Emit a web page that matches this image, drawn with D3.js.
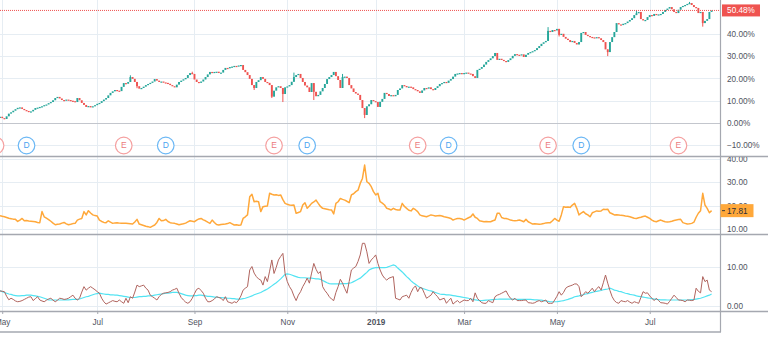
<!DOCTYPE html>
<html><head><meta charset="utf-8">
<script src="https://cdn.jsdelivr.net/npm/d3@7"></script>
<style>
html,body{margin:0;padding:0;background:#fff;}
svg{display:block;font-family:"Liberation Sans",Arial,sans-serif;}
</style></head><body><svg id="c" width="768" height="358"></svg>
<script>
// ---------- data ----------
const startDate = "2018-04-30";
const endDate = "2019-08-09";
const holidays = ["2018-05-28","2018-07-04","2018-09-03","2018-11-22","2018-12-05","2018-12-25",
  "2019-01-01","2019-01-21","2019-02-18","2019-04-19","2019-05-27","2019-07-04"];

const firstOpen = 2.6;
const closes = [
 2.8, 2.2, 1.8, 3.0, 4.2, 4.8, 5.5, 6.2, 6.8, 7.0,
 6.3, 5.8, 5.4, 5.0, 5.2, 5.9, 6.7, 6.9, 7.2, 7.5,
 8.0, 8.3, 8.9, 9.4, 10.2, 11.2, 11.7, 11.0, 10.3, 10.2,
 10.5, 10.3, 10.0, 9.8, 9.4, 11.2, 10.2, 9.0, 8.1, 7.2,
 7.6, 7.0, 7.5, 8.0, 8.6, 9.0, 9.8, 10.5, 11.2, 12.4,
 13.5, 14.2, 14.8, 14.5, 14.3, 16.2, 17.9, 17.6, 18.4, 20.6,
 19.8, 18.4, 16.5, 15.4, 15.7, 16.3, 17.0, 17.5, 18.0, 18.6,
 19.7, 19.0, 18.4, 18.6, 18.2, 18.0, 17.6, 17.0, 16.5, 16.0,
 17.2, 18.4, 19.0, 19.6, 20.2, 21.5, 22.4, 22.0, 19.5, 18.4,
 18.0, 18.6, 19.5, 20.6, 21.8, 22.9, 22.5, 22.9, 23.0, 22.4,
 22.6, 23.8, 24.7, 24.5, 25.1, 25.3, 25.6, 25.4, 25.8, 26.0,
 23.8, 22.8, 21.5, 19.8, 17.0, 15.7, 18.4, 19.2, 20.6, 19.8,
 18.4, 18.0, 17.0, 11.8, 14.5, 16.0, 16.5, 15.7, 13.0, 16.0,
 16.4, 17.0, 18.5, 20.6, 21.5, 22.0, 20.2, 18.4, 16.8, 16.0,
 13.9, 17.9, 14.0, 12.0, 12.6, 14.2, 15.7, 17.5, 19.7, 20.6,
 21.5, 22.9, 21.0, 19.3, 15.7, 20.6, 20.8, 20.2, 17.0, 15.5,
 13.9, 13.2, 12.6, 10.3, 6.7, 3.6, 7.5, 8.4, 10.3, 9.8,
 9.4, 7.2, 9.5, 10.8, 13.5, 13.0, 12.1, 12.5, 12.0, 12.6,
 14.8, 15.5, 17.0, 16.6, 16.0, 16.3, 16.0, 15.2, 14.8, 14.2,
 13.5, 14.6, 15.7, 15.4, 16.0, 15.2, 14.8, 15.7, 16.5, 17.5,
 17.9, 18.4, 18.0, 19.0, 19.7, 20.8, 22.0, 22.2, 22.4, 21.9,
 22.4, 22.6, 22.2, 22.0, 21.0, 20.2, 23.8, 24.3, 25.1, 26.2,
 27.4, 28.2, 29.0, 30.0, 31.4, 28.3, 28.8, 28.3, 27.8, 27.4,
 28.2, 29.0, 30.1, 30.9, 30.6, 30.5, 30.8, 29.6, 30.6, 31.4,
 31.8, 32.2, 32.7, 33.6, 34.5, 35.5, 36.2, 36.8, 41.3, 40.8,
 41.7, 41.5, 42.2, 39.5, 40.0, 38.6, 37.8, 37.2, 36.3, 36.8,
 35.9, 35.2, 36.3, 40.4, 40.8, 39.5, 39.0, 38.6, 38.4, 38.0,
 38.5, 38.0, 37.2, 36.3, 33.0, 31.8, 36.3, 38.5, 40.8, 44.8,
 44.2, 43.9, 44.5, 44.8, 45.5, 46.2, 47.0, 48.4, 49.2, 49.8,
 46.6, 46.0, 46.2, 47.5, 48.4, 48.0, 48.9, 48.5, 48.7, 48.9,
 49.8, 50.7, 51.3, 52.0, 51.0, 49.8, 49.3, 50.8, 52.0, 52.5,
 52.9, 53.4, 53.8, 52.9, 52.0, 51.6, 49.3, 49.8, 44.8, 45.8, 46.6, 49.8, 50.48];

// notable wicks: [trading-day index, value]
const wickLows = [[123, 11.2], [128, 9.4], [142, 10.3], [165, 2.2], [115, 14.8], [275, 30.0], [318, 43.2], [62, 15.6], [253, 38.8]];
const wickHighs = [[59, 21.4], [248, 43.0], [288, 50.6], [312, 54.3], [133, 22.6], [155, 22.0], [87, 23.0]];

const vix = [
 15.7, 15.4, 15.2, 14.9, 14.6, 14.4, 14.2, 14.1, 13.2, 13.8,
 14.5, 13.5, 13.6, 13.4, 13.3, 13.2, 13.1, 12.8, 12.7, 17.4,
 15.2, 14.6, 14.0, 13.3, 12.5, 11.8, 12.0, 12.1, 12.5, 12.8,
 12.2, 11.8, 12.0, 12.3, 12.4, 13.8, 14.2, 14.5, 17.4, 16.0,
 17.8, 16.8, 16.0, 15.7, 15.5, 13.8, 13.2, 12.8, 12.7, 13.5,
 12.9, 12.4, 12.6, 12.7, 12.5, 12.4, 12.5, 12.4, 12.3, 12.2,
 12.1, 13.0, 14.1, 12.1, 11.8, 11.5, 11.2, 11.0, 10.7, 11.2,
 11.7, 12.8, 14.5, 13.5, 13.6, 14.1, 13.2, 12.7, 12.5, 12.4,
 12.1, 11.8, 12.0, 12.2, 12.5, 13.0, 13.5, 13.3, 13.1, 13.8,
 14.3, 14.5, 13.9, 13.5, 12.9, 12.4, 13.8, 12.8, 11.9, 11.7,
 11.9, 12.0, 12.1, 12.3, 12.7, 12.2, 11.7, 11.8, 11.6, 11.7,
 14.5, 15.2, 16.0, 23.7, 24.8, 21.6, 21.8, 21.6, 17.4, 19.5,
 19.7, 19.8, 25.2, 24.8, 24.5, 24.6, 24.3, 24.5, 22.5, 20.9,
 20.5, 20.2, 20.1, 20.2, 16.7, 17.0, 17.4, 20.2, 21.2, 18.8,
 19.8, 20.9, 21.5, 22.3, 20.9, 19.6, 18.8, 18.6, 18.4, 18.2,
 18.1, 16.4, 20.9, 21.6, 23.0, 22.6, 22.3, 21.8, 21.2, 24.5,
 25.0, 25.9, 26.5, 29.4, 31.5, 37.2, 30.1, 29.4, 28.0, 25.9,
 24.5, 25.2, 21.6, 21.0, 20.2, 18.8, 18.5, 18.1, 18.8, 18.3,
 18.1, 18.1, 20.9, 19.6, 18.8, 18.0, 17.7, 18.8, 18.2, 17.4,
 16.0, 15.6, 15.4, 15.2, 15.6, 16.0, 15.8, 15.5, 15.6, 15.7,
 15.5, 15.2, 15.0, 14.8, 14.5, 13.8, 14.2, 14.5, 14.5, 14.3,
 13.8, 14.3, 14.8, 15.2, 16.4, 15.0, 14.5, 13.5, 13.3, 13.1,
 13.2, 13.1, 13.1, 13.5, 13.8, 16.7, 16.7, 14.9, 14.5, 14.5,
 14.2, 13.8, 13.6, 13.5, 13.6, 13.8, 13.5, 13.1, 14.1, 13.1,
 12.6, 12.1, 12.2, 12.1, 12.0, 12.1, 12.3, 12.6, 12.7, 12.7,
 13.5, 14.5, 13.8, 13.3, 16.0, 19.5, 19.3, 19.4, 19.2, 20.2,
 20.9, 18.8, 16.0, 16.8, 17.4, 16.5, 16.0, 15.2, 16.9, 17.3,
 17.7, 17.6, 17.7, 18.4, 18.3, 18.4, 16.9, 16.5, 16.0, 16.1,
 16.0, 15.8, 15.7, 15.5, 15.4, 15.2, 14.9, 14.6, 14.5, 14.8,
 15.0, 15.3, 15.5, 15.0, 14.5, 13.8, 13.3, 13.1, 13.5, 13.8,
 13.4, 13.1, 13.0, 13.1, 13.3, 13.6, 13.8, 14.0, 14.1, 12.7,
 12.4, 12.1, 12.2, 12.4, 12.9, 15.0, 16.7, 17.8, 25.2, 20.2, 18.8, 16.9, 17.81];

const osc = [
 3.9, 3.8, 3.7, 2.5, 1.6, 2.0, 1.7, 1.3, 1.1, 1.2,
 1.4, 1.7, 2.0, 2.3, 2.4, 1.4, 1.9, 2.4, 1.55, 1.3,
 1.1, 1.5, 1.8, 2.0, 1.5, 1.1, 1.5, 2.0, 1.9, 1.7,
 1.8, 2.0, 2.4, 2.8, 2.0, 1.55, 2.0, 3.6, 5.0, 4.1,
 4.6, 5.0, 4.6, 4.2, 3.7, 3.3, 2.0, 1.1, 0.5, 0.8,
 1.1, 1.4, 1.2, 1.1, 1.55, 1.1, 0.7, 2.0, 0.85, 2.4,
 2.0, 3.6, 5.4, 5.0, 5.2, 5.4, 4.6, 4.1, 2.8, 2.4,
 2.0, 1.55, 2.4, 3.0, 3.3, 3.4, 3.5, 3.7, 4.1, 4.3,
 4.6, 3.3, 2.2, 1.55, 1.0, 0.7, 1.1, 2.0, 3.2, 4.3,
 4.6, 4.0, 3.3, 2.0, 1.1, 1.1, 1.4, 1.8, 2.4, 2.2,
 2.0, 1.4, 2.4, 1.1, 0.9, 0.7, 1.1, 0.85, 1.55, 2.6,
 4.1, 4.6, 5.0, 9.3, 10.2, 8.5, 7.6, 7.0, 6.7, 5.4,
 7.6, 6.3, 9.0, 11.9, 8.4, 10.0, 11.9, 12.8, 13.6, 8.4,
 6.3, 5.0, 4.1, 2.6, 1.4, 2.8, 3.7, 5.0, 6.0, 7.2,
 5.9, 8.5, 11.0, 9.5, 8.4, 8.9, 5.0, 4.0, 3.3, 2.4,
 1.8, 1.4, 3.5, 5.0, 6.9, 5.9, 4.5, 3.3, 6.3, 9.3,
 9.8, 10.2, 11.5, 13.2, 16.2, 16.2, 14.0, 11.0, 11.9, 12.5,
 13.2, 11.0, 9.3, 8.0, 7.2, 6.7, 7.2, 7.4, 7.6, 2.0,
 1.8, 1.55, 2.4, 2.6, 2.8, 2.0, 3.5, 4.6, 5.2, 3.7,
 4.8, 4.6, 3.3, 2.0, 2.4, 2.8, 3.7, 3.0, 2.4, 1.55,
 1.8, 2.0, 0.7, 1.4, 2.0, 0.5, 1.0, 1.4, 0.85, 1.2,
 1.55, 1.4, 1.4, 2.0, 1.1, 3.4, 2.0, 1.4, 0.85, 0.7,
 0.7, 1.4, 1.1, 0.85, 2.4, 2.8, 3.0, 3.3, 3.6, 3.9,
 2.8, 2.0, 1.55, 2.0, 1.4, 1.4, 1.4, 1.5, 1.55, 0.85,
 0.8, 0.7, 0.85, 1.2, 1.4, 1.1, 1.3, 1.55, 0.7, 0.7,
 0.7, 1.55, 2.5, 3.7, 2.8, 3.5, 4.6, 5.0, 5.2, 5.4,
 5.7, 5.7, 5.0, 2.4, 3.0, 3.7, 3.3, 3.9, 4.6, 3.7,
 4.5, 5.0, 4.1, 6.0, 8.0, 5.9, 4.0, 2.4, 1.4, 0.9,
 0.7, 1.4, 1.2, 1.1, 1.4, 1.0, 0.7, 1.1, 0.9, 0.7,
 2.2, 3.7, 3.3, 3.4, 2.6, 2.0, 1.4, 2.0, 1.4, 0.85,
 0.8, 0.7, 0.5, 1.2, 2.0, 2.8, 2.2, 1.55, 1.5, 1.4,
 1.1, 1.55, 1.5, 1.4, 1.55, 4.6, 3.8, 3.4, 7.6, 6.3, 6.7, 4.1, 3.7];

const oscAvg = [
 3.9, 3.7, 3.5, 3.3, 3.1, 3.0, 2.8, 2.7, 2.6, 2.6,
 2.7, 2.7, 2.8, 2.8, 2.8, 2.7, 2.6, 2.5, 2.4, 2.2,
 2.0, 1.8, 1.6, 1.55, 1.55, 1.55, 1.55, 1.55, 1.55, 1.6,
 1.6, 1.6, 1.65, 1.7, 1.7, 1.7, 1.8, 2.0, 2.2, 2.4,
 2.5, 2.7, 2.9, 3.1, 3.2, 3.3, 3.2, 3.1, 3.0, 3.0,
 2.9, 2.9, 2.8, 2.8, 2.7, 2.6, 2.5, 2.4, 2.3, 2.2,
 2.2, 2.2, 2.3, 2.4, 2.4, 2.5, 2.5, 2.6, 2.6, 2.7,
 2.8, 2.9, 3.0, 3.1, 3.2, 3.3, 3.3, 3.4, 3.5, 3.5,
 3.5, 3.4, 3.2, 3.0, 2.8, 2.7, 2.6, 2.6, 2.7, 2.7,
 2.8, 2.8, 2.7, 2.6, 2.5, 2.5, 2.4, 2.3, 2.3, 2.2,
 2.2, 2.1, 2.1, 2.0, 2.0, 1.9, 1.9, 1.8, 1.8, 1.8,
 1.9, 2.0, 2.2, 2.4, 2.6, 2.9, 3.1, 3.3, 3.5, 3.8,
 4.1, 4.4, 4.8, 5.2, 5.6, 6.0, 6.5, 7.0, 7.6, 8.2,
 8.3, 8.2, 8.0, 7.8, 7.6, 7.4, 7.3, 7.3, 7.3, 7.2,
 7.2, 7.2, 7.1, 7.0, 7.0, 6.9, 6.6, 6.3, 6.0, 5.8,
 5.7, 5.7, 5.7, 5.7, 5.7, 5.8, 5.8, 5.8, 5.9, 6.0,
 6.3, 6.6, 6.9, 7.2, 7.7, 8.2, 8.7, 9.3, 9.6, 9.8,
 9.9, 9.9, 9.9, 9.9, 9.9, 10.0, 10.2, 10.4, 10.6, 10.4,
 9.8, 9.3, 8.8, 8.2, 7.6, 7.1, 6.5, 6.0, 5.6, 5.2,
 4.8, 4.6, 4.4, 4.2, 4.0, 3.9, 3.7, 3.5, 3.3, 3.1,
 3.0, 3.0, 2.9, 2.9, 2.8, 2.7, 2.6, 2.5, 2.4, 2.3,
 2.2, 2.1, 2.0, 1.8, 1.7, 1.6, 1.5, 1.4, 1.4, 1.45,
 1.5, 1.55, 1.6, 1.65, 1.7, 1.75, 1.8, 1.8, 1.8, 1.8,
 1.8, 1.8, 1.8, 1.75, 1.7, 1.7, 1.7, 1.7, 1.7, 1.7,
 1.7, 1.65, 1.6, 1.6, 1.55, 1.5, 1.4, 1.3, 1.2, 1.1,
 1.1, 1.1, 1.1, 1.2, 1.3, 1.4, 1.55, 1.7, 1.9, 2.1,
 2.4, 2.5, 2.6, 2.8, 2.9, 3.1, 3.2, 3.4, 3.5, 3.7,
 3.8, 3.9, 4.0, 4.2, 4.3, 4.4, 4.6, 4.4, 4.1, 4.0,
 3.8, 3.7, 3.5, 3.3, 3.2, 3.0, 2.9, 2.8, 2.6, 2.5,
 2.4, 2.3, 2.2, 2.1, 2.0, 1.9, 1.8, 1.7, 1.65, 1.6,
 1.6, 1.6, 1.55, 1.55, 1.55, 1.55, 1.55, 1.55, 1.55, 1.55,
 1.55, 1.55, 1.6, 1.65, 1.7, 1.8, 1.9, 2.0, 2.2, 2.4, 2.6, 2.8, 3.1];

const priceTicks = [-10, 0, 10, 20, 30, 40];
const vixTicks = [10, 20, 30, 40];
const oscTicks = [0, 10];
const monthDates = ["2018-05-01","2018-07-01","2018-09-01","2018-11-01","2019-01-01","2019-03-01","2019-05-01","2019-07-01"];
const monthLabels = ["May","Jul","Sep","Nov","2019","Mar","May","Jul"];
const earningsAt = [-2, 56, 124, 189, 248, 307];   // trading-day offsets
const dividendsAt = [12, 75, 139, 203, 263];

// ---------- build trading days ----------
const fmt = d3.utcFormat("%Y-%m-%d");
const hol = new Set(holidays);
const days = d3.utcDay.range(new Date(startDate + "T00:00:00Z"), d3.utcDay.offset(new Date(endDate + "T00:00:00Z"), 1))
  .filter(d => d.getUTCDay() >= 1 && d.getUTCDay() <= 5 && !hol.has(fmt(d)));

const monthIdx = monthDates.map(s => { const t = new Date(s + "T00:00:00Z"); return days.findIndex(d => d >= t); });

// ---------- layout ----------
const W = 768, plotR = 720;
const P1 = {top: 0, bottom: 156}, P2 = {top: 157, bottom: 234}, P3 = {top: 235, bottom: 311};
const axisBottom = 332;

const x = d3.scaleLinear().domain([0, 325.8]).range([0, plotR]);
const yP = d3.scaleLinear().domain([0, 40]).range([123, 33.8]);
const yV = d3.scaleLinear().domain([10, 40]).range([229, 158.5]);
const yO = d3.scaleLinear().domain([0, 10]).range([306, 267.3]);

const svg = d3.select("#c");
const defs = svg.append("defs");
function clip(id, y0, y1, w) {
  defs.append("clipPath").attr("id", id).append("rect").attr("x", 0).attr("y", y0).attr("width", w).attr("height", y1 - y0);
}
clip("c1", P1.top, P1.bottom, plotR); clip("c2", P2.top, P2.bottom, plotR); clip("c3", P3.top, P3.bottom, plotR);
clip("a1", P1.top, P1.bottom, W); clip("a2", P2.top, P2.bottom, W); clip("a3", P3.top, P3.bottom, W);

svg.append("rect").attr("width", W).attr("height", 358).attr("fill", "#fff");

const gridCol = "#e6edf3", sepCol = "#a5a8b0", txtCol = "#50535e";

// vertical grid lines (month ticks)
const vg = svg.append("g").call(d3.axisBottom(x).tickValues(monthIdx).tickSize(P3.bottom).tickFormat(""));
vg.select(".domain").remove();
vg.selectAll("line").attr("stroke", gridCol).attr("shape-rendering", "crispEdges");

// horizontal grid lines per pane
function hgrid(scale, ticks, cid) {
  const g = svg.append("g").attr("clip-path", `url(#${cid})`)
    .call(d3.axisLeft(scale).tickValues(ticks).tickSize(-plotR).tickFormat(""));
  g.select(".domain").remove();
  g.selectAll("line").attr("stroke", gridCol).attr("shape-rendering", "crispEdges");
}
hgrid(yP, priceTicks, "c1");
hgrid(yV, vixTicks, "c2");
hgrid(yO, oscTicks, "c3");

// 0% baseline
svg.append("line").attr("x1", 0).attr("x2", plotR).attr("y1", Math.round(yP(0)) + 0.5).attr("y2", Math.round(yP(0)) + 0.5)
  .attr("stroke", "#c3c6cd");

// ---------- candles ----------
const up = "#26a69a", down = "#ef5350";
const lowMap = new Map(wickLows), highMap = new Map(wickHighs);
const cg = svg.append("g").attr("clip-path", "url(#c1)");
closes.forEach((c, i) => {
  const o = i === 0 ? firstOpen : closes[i - 1];
  const col = c >= o ? up : down;
  const hi = highMap.has(i) ? highMap.get(i) : Math.max(o, c);
  const lo = lowMap.has(i) ? lowMap.get(i) : Math.min(o, c);
  if (hi > Math.max(o, c) || lo < Math.min(o, c)) {
    cg.append("line").attr("x1", x(i)).attr("x2", x(i)).attr("y1", yP(hi)).attr("y2", yP(lo))
      .attr("stroke", col).attr("stroke-width", 1);
  }
  const y1 = yP(Math.max(o, c)), y2 = yP(Math.min(o, c));
  cg.append("rect").attr("x", x(i) - 0.95).attr("width", 1.9)
    .attr("y", y1).attr("height", Math.max(1.2, y2 - y1))
    .attr("fill", col);
});

// last price dotted line
const lastP = closes[closes.length - 1];
svg.append("line").attr("x1", 0).attr("x2", plotR).attr("y1", yP(lastP)).attr("y2", yP(lastP))
  .attr("stroke", "#ef5350").attr("stroke-width", 1).attr("stroke-dasharray", "1,1");

// E / D markers
const mg = svg.append("g").attr("clip-path", "url(#c1)");
function marker(i, letter, col, txt) {
  const cx = x(i), cy = 145.5;
  mg.append("circle").attr("cx", cx).attr("cy", cy).attr("r", 8.3).attr("fill", "#fff").attr("stroke", col).attr("stroke-width", 1.2);
  mg.append("text").attr("x", cx).attr("y", cy).attr("dy", "0.35em").attr("text-anchor", "middle")
    .attr("font-size", 8.5).attr("fill", txt).text(letter);
}
earningsAt.forEach(i => marker(i, "E", "#f5a0a0", "#ec7b7b"));
dividendsAt.forEach(i => marker(i, "D", "#6cb8f5", "#4aa3ef"));

// ---------- VIX line ----------
svg.append("path").attr("clip-path", "url(#c2)").datum(vix)
  .attr("d", d3.line().x((d, i) => x(i)).y(d => yV(d)))
  .attr("fill", "none").attr("stroke", "#ffa83a").attr("stroke-width", 1.5).attr("stroke-linejoin", "round");

// ---------- oscillator lines ----------
svg.append("path").attr("clip-path", "url(#c3)").datum(oscAvg)
  .attr("d", d3.line().x((d, i) => x(i)).y(d => yO(d)))
  .attr("fill", "none").attr("stroke", "#52e3f2").attr("stroke-width", 1.2);
svg.append("path").attr("clip-path", "url(#c3)").datum(osc)
  .attr("d", d3.line().x((d, i) => x(i)).y(d => yO(d)))
  .attr("fill", "none").attr("stroke", "#b0645e").attr("stroke-width", 1);

// ---------- separators / frame ----------
function hline(y, x1, x2) {
  svg.append("line").attr("x1", x1).attr("x2", x2).attr("y1", y).attr("y2", y).attr("stroke", sepCol).attr("stroke-width", 1.3);
}
hline(156.5, 0, W); hline(234.5, 0, W); hline(311.5, 0, W); hline(332, 0, plotR + 1);
svg.append("line").attr("x1", plotR + 0.5).attr("x2", plotR + 0.5).attr("y1", 0).attr("y2", axisBottom).attr("stroke", sepCol).attr("stroke-width", 1.2);

// ---------- right axes ----------
function raxis(scale, ticks, fmtFn, cid) {
  const g = svg.append("g").attr("transform", `translate(${plotR},0)`).attr("clip-path", `url(#${cid})`)
    .call(d3.axisRight(scale).tickValues(ticks).tickSize(0).tickPadding(7).tickFormat(fmtFn));
  g.select(".domain").remove();
  g.selectAll("text").attr("font-size", 8.2).attr("fill", txtCol).attr("font-family", "Liberation Sans, Arial, sans-serif");
}
const pctFmt = v => (v < 0 ? "\u2212" : "") + Math.abs(v).toFixed(2) + "%";
raxis(yP, priceTicks, pctFmt, "a1");
raxis(yV, vixTicks, v => v.toFixed(2), "a2");
raxis(yO, oscTicks, v => v.toFixed(2), "a3");

// last-value labels
const lpY = yP(lastP);
svg.append("rect").attr("x", 722).attr("y", lpY - 6).attr("width", 38).attr("height", 12).attr("fill", "#ef5350");
svg.append("text").attr("x", 741).attr("y", lpY).attr("dy", "0.35em").attr("text-anchor", "middle")
  .attr("font-size", 8.2).attr("fill", "#fff").text(lastP.toFixed(2) + "%");

const lastV = vix[vix.length - 1], lvY = yV(lastV);
svg.append("rect").attr("x", 720.5).attr("y", lvY - 6.5).attr("width", 33).attr("height", 13).attr("fill", "#ffa83a");
svg.append("line").attr("x1", 722).attr("x2", 725).attr("y1", lvY).attr("y2", lvY).attr("stroke", "#3a3a3a");
svg.append("text").attr("x", 727).attr("y", lvY).attr("dy", "0.35em")
  .attr("font-size", 8.2).attr("fill", "#2a2e39").text(lastV.toFixed(2));

// ---------- bottom time axis ----------
const xa = svg.append("g").attr("transform", `translate(0,${P3.bottom})`)
  .call(d3.axisBottom(x).tickValues(monthIdx).tickSize(3).tickPadding(5).tickFormat((d, i) => monthLabels[i]));
xa.select(".domain").remove();
xa.selectAll("line").attr("stroke", sepCol);
xa.selectAll("text").attr("font-size", 8.2).attr("fill", txtCol).attr("font-family", "Liberation Sans, Arial, sans-serif")
  .attr("font-weight", (d, i) => monthLabels[i] === "2019" ? "bold" : "normal");
</script></body></html>
